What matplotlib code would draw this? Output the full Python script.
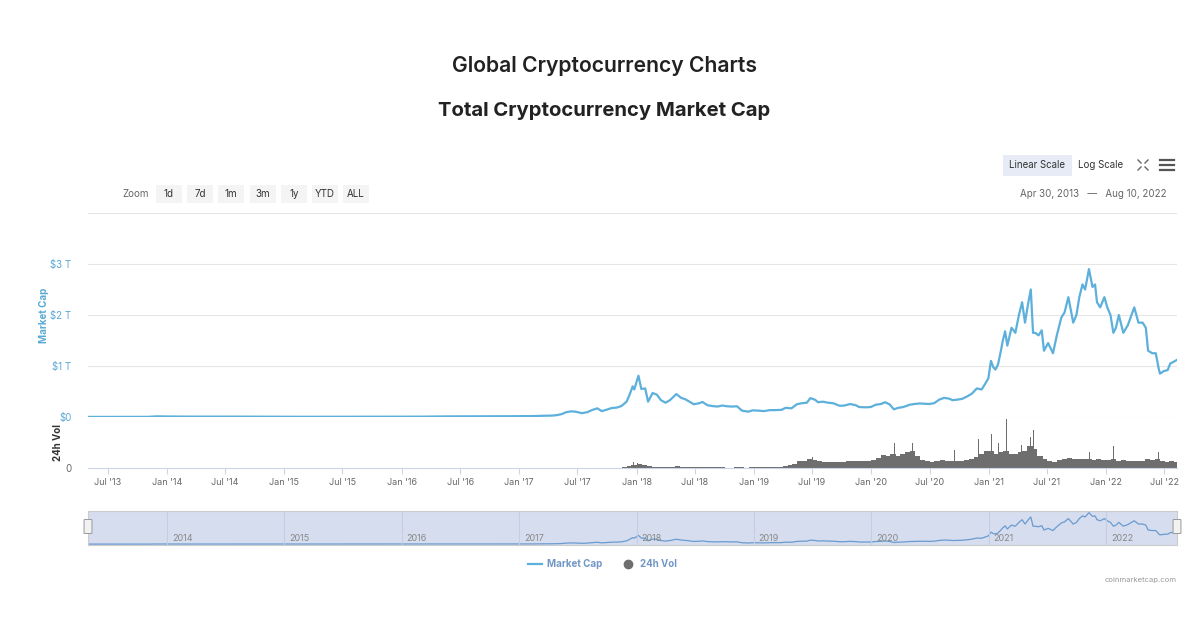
import pandas as pd
import numpy as np
import matplotlib
matplotlib.use('Agg')
import matplotlib.pyplot as plt
import matplotlib.dates as mdates
from matplotlib.lines import Line2D
from matplotlib.patches import Rectangle, FancyBboxPatch

plt.rcParams['font.family'] = ['Inter', 'DejaVu Sans']

# total market cap, $B
cap_dates = ['2013-04-30', '2013-08-01', '2013-11-01', '2013-12-01', '2014-01-01', '2014-03-01',
             '2014-06-01', '2014-09-01', '2014-12-01', '2015-03-01', '2015-06-01', '2015-09-01',
             '2015-12-01', '2016-03-01', '2016-06-01', '2016-09-01', '2016-12-01', '2017-01-15',
             '2017-02-15', '2017-03-01', '2017-03-15', '2017-04-01', '2017-04-15', '2017-05-01',
             '2017-05-15', '2017-05-25', '2017-06-10', '2017-06-25', '2017-07-15', '2017-08-01',
             '2017-08-15', '2017-09-01', '2017-09-15', '2017-10-01', '2017-10-15', '2017-11-01',
             '2017-11-15', '2017-12-01', '2017-12-10', '2017-12-20', '2017-12-25', '2018-01-07',
             '2018-01-16', '2018-01-28', '2018-02-06', '2018-02-20', '2018-03-05', '2018-03-18',
             '2018-04-01', '2018-04-15', '2018-05-05', '2018-05-20', '2018-06-01', '2018-06-15',
             '2018-06-28', '2018-07-15', '2018-07-25', '2018-08-10', '2018-08-25', '2018-09-10',
             '2018-09-25', '2018-10-10', '2018-10-25', '2018-11-10', '2018-11-25', '2018-12-15',
             '2018-12-28', '2019-01-15', '2019-02-01', '2019-02-20', '2019-03-10', '2019-03-28',
             '2019-04-10', '2019-04-28', '2019-05-15', '2019-05-30', '2019-06-15', '2019-06-26',
             '2019-07-10', '2019-07-20', '2019-08-05', '2019-08-20', '2019-09-05', '2019-09-25',
             '2019-10-10', '2019-10-28', '2019-11-15', '2019-11-25', '2019-12-15', '2019-12-31',
             '2020-01-15', '2020-02-01', '2020-02-14', '2020-02-28', '2020-03-12', '2020-03-25',
             '2020-04-10', '2020-04-30', '2020-05-15', '2020-05-31', '2020-06-15', '2020-06-30',
             '2020-07-15', '2020-07-31', '2020-08-15', '2020-08-31', '2020-09-10', '2020-09-25',
             '2020-10-10', '2020-10-25', '2020-11-10', '2020-11-25', '2020-12-10', '2020-12-20',
             '2020-12-31', '2021-01-08', '2021-01-15', '2021-01-22', '2021-01-30', '2021-02-08',
             '2021-02-14', '2021-02-21', '2021-02-28', '2021-03-13', '2021-03-25', '2021-04-05',
             '2021-04-15', '2021-04-24', '2021-05-03', '2021-05-12', '2021-05-19', '2021-05-26',
             '2021-06-05', '2021-06-15', '2021-06-22', '2021-07-05', '2021-07-20', '2021-08-01',
             '2021-08-15', '2021-08-25', '2021-09-06', '2021-09-21', '2021-10-01', '2021-10-10',
             '2021-10-20', '2021-10-28', '2021-11-09', '2021-11-20', '2021-11-28', '2021-12-04',
             '2021-12-14', '2021-12-27', '2022-01-05', '2022-01-15', '2022-01-24', '2022-02-01',
             '2022-02-10', '2022-02-24', '2022-03-10', '2022-03-30', '2022-04-12', '2022-04-25',
             '2022-05-05', '2022-05-12', '2022-05-25', '2022-06-05', '2022-06-14', '2022-06-18',
             '2022-06-30', '2022-07-12', '2022-07-20', '2022-07-30', '2022-08-10']
cap_values = [1.5, 1.3, 3, 13, 10, 8,
              8, 7, 5, 4, 4, 4,
              6, 7, 12, 13, 15, 17,
              18, 22, 24, 25, 28, 40,
              60, 90, 110, 105, 75, 95,
              135, 170, 115, 145, 175, 185,
              215, 300, 430, 600, 540, 810,
              550, 560, 300, 470, 440, 330,
              280, 330, 450, 375, 350, 300,
              250, 270, 295, 230, 215, 205,
              225, 210, 205, 210, 125, 105,
              130, 125, 115, 135, 135, 140,
              180, 170, 250, 270, 280, 370,
              340, 290, 300, 280, 270, 220,
              225, 255, 230, 195, 190, 195,
              240, 255, 290, 245, 150, 180,
              195, 240, 255, 265, 260, 255,
              270, 340, 375, 360, 330, 340,
              355, 400, 460, 560, 540, 640,
              760, 1100, 980, 930, 1030, 1300,
              1500, 1680, 1400, 1750, 1650, 2000,
              2250, 1850, 2200, 2500, 1650, 1650,
              1600, 1700, 1300, 1450, 1250, 1600,
              1950, 2050, 2350, 1850, 2000, 2350,
              2600, 2500, 2900, 2550, 2600, 2250,
              2150, 2350, 2150, 2000, 1650, 1750,
              2000, 1650, 1800, 2150, 1850, 1850,
              1750, 1300, 1250, 1250, 950, 850,
              900, 920, 1050, 1080, 1120]

# 24h volume, $B, two readings per month from Jun 2017
vol_start = '2017-06-01'
vol_values = [1, 1, 1, 1, 1, 2, 2, 2, 2, 2, 3, 5, 14, 22,
              26, 20, 12, 8, 6, 5, 5, 7, 12, 10, 5, 4, 5, 5, 4, 4, 4, 4, 3, 3, 4, 4, 3, 4,
              4, 4, 4, 5, 5, 6, 12, 20, 30, 45, 50, 60, 55, 50, 42, 40, 38, 40, 42, 48, 45, 50, 48, 50,
              55, 70, 90, 85, 100, 80, 95, 110, 115, 85, 55, 45, 40, 45, 55, 45, 50, 45, 50, 55, 65, 75, 95, 115,
              120, 100, 110, 120, 100, 95, 110, 120, 150, 130, 80, 65, 45, 40, 55, 60, 70, 60, 60, 65, 60, 55, 65, 55,
              55, 60, 50, 55, 50, 50, 45, 45, 60, 55, 60, 50, 40, 45, 40]
spike_dates = ['2017-12-22', '2018-01-05', '2019-05-28', '2019-07-02', '2020-03-15', '2020-05-08',
               '2020-09-16', '2020-12-01', '2021-01-10', '2021-02-01', '2021-02-26', '2021-04-13',
               '2021-05-12', '2021-05-20', '2021-09-08', '2021-11-10', '2022-01-24', '2022-06-14']
spike_values = [40, 35, 85, 75, 175, 170,
                125, 200, 235, 170, 340, 160,
                215, 265, 120, 110, 155, 110]

x_ticks = pd.date_range('2013-07-01', '2022-07-01', freq='6MS')
x_labels = [d.strftime("%b '%y") for d in x_ticks]
cap_ticks = [0, 1000, 2000, 3000]
cap_labels = ['$0', '$1 T', '$2 T', '$3 T']
nav_years = list(range(2014, 2023))

cap = pd.Series(cap_values, index=pd.to_datetime(cap_dates))
vol_idx = []
for m in pd.date_range(vol_start, periods=(len(vol_values) + 1) // 2, freq='MS'):
    vol_idx += [m, m + pd.Timedelta(days=15)]
vol = pd.Series(vol_values, index=vol_idx[:len(vol_values)])
spikes = pd.Series(spike_values, index=pd.to_datetime(spike_dates))

W, H = 1200, 630
def fx(x): return x / W
def fy(y): return 1 - y / H

line_c = '#5cb0db'
grid_c = '#e6e6e6'
xmin, xmax = pd.Timestamp('2013-04-30'), pd.Timestamp('2022-08-10')

fig = plt.figure(figsize=(12, 6.3), dpi=100)

fig.text(fx(604), fy(66), 'Global Cryptocurrency Charts', ha='center', va='center',
         fontsize=15.2, fontweight='semibold', color='#222222')
fig.text(fx(604), fy(111), 'Total Cryptocurrency Market Cap', ha='center', va='center',
         fontsize=14.6, fontweight='bold', color='#222222')

# main pane
ax = fig.add_axes([fx(88), fy(417), fx(1177) - fx(88), fy(213) - fy(417)])
ax.plot(cap.index, cap.values, color=line_c, lw=1.6, solid_joinstyle='round')
ax.set_xlim(xmin, xmax)
ax.set_ylim(0, 4000)
ax.set_yticks(cap_ticks + [4000])
ax.set_yticklabels(cap_labels + [''])
ax.grid(axis='y', color=grid_c, lw=0.8)
ax.set_axisbelow(True)
ax.tick_params(axis='y', length=0, pad=12, labelsize=7, labelcolor='#5aa8d6')
ax.tick_params(axis='x', length=0, labelbottom=False)
for s in ax.spines.values():
    s.set_visible(False)
ax.set_ylabel('Market Cap', fontsize=7, fontweight='bold', color='#5aa8d6')

# volume pane
av = fig.add_axes([fx(88), fy(468), fx(1177) - fx(88), fy(418) - fy(468)])
av.bar(vol.index, vol.values, width=16.5, color='#6e6e6e', align='edge', linewidth=0)
av.bar(spikes.index, spikes.values, width=2.5, color='#6e6e6e', linewidth=0)
av.set_xlim(xmin, xmax)
av.set_ylim(0, 345)
av.set_yticks([0])
av.set_yticklabels(['0'])
av.tick_params(axis='y', length=0, pad=12, labelsize=7, labelcolor='#666666')
av.set_xticks(x_ticks)
av.set_xticklabels(x_labels)
av.tick_params(axis='x', length=4, color='#ccd6eb', labelsize=6.5, labelcolor='#666666', pad=3)
for s in ['top', 'left', 'right']:
    av.spines[s].set_visible(False)
av.spines['bottom'].set_color('#ccd6eb')
av.set_ylabel('24h Vol', fontsize=7, fontweight='bold', color='#333333')
av.yaxis.set_label_coords(-0.023, 0.5)
ax.yaxis.set_label_coords(-0.036, 0.5)

# navigator
an = fig.add_axes([fx(88), fy(545), fx(1177) - fx(88), fy(511) - fy(545)])
an.set_facecolor('#d5ddee')
an.plot(cap.index, cap.values, color='#6a9bd0', lw=0.9)
an.set_xlim(xmin, xmax)
an.set_ylim(-80, 3050)
for yr in nav_years:
    d = pd.Timestamp(f'{yr}-01-01')
    an.axvline(d, color='#c4cde2', lw=0.8)
    an.text(d + pd.Timedelta(days=15), 150, str(yr), fontsize=6.5, color='#888888',
            ha='left', va='bottom')
an.set_xticks([])
an.set_yticks([])
for s in an.spines.values():
    s.set_color('#cccccc')
    s.set_linewidth(0.8)

# navigator handles
for hx in (88, 1177):
    fig.patches.append(FancyBboxPatch((fx(hx - 3), fy(533)), fx(6), fy(520) - fy(533),
                                      boxstyle='round,pad=0.0008', transform=fig.transFigure,
                                      fc='#f2f2f2', ec='#999999', lw=0.7))

# range selector
fig.text(fx(136), fy(194), 'Zoom', ha='center', va='center', fontsize=7, color='#666666')
for lbl, cx in zip(['1d', '7d', '1m', '3m', '1y', 'YTD', 'ALL'], [169, 200, 231, 263, 294, 325, 356]):
    fig.patches.append(Rectangle((fx(cx - 13), fy(203)), fx(26), fy(185) - fy(203),
                                 transform=fig.transFigure, fc='#f4f4f4', ec='none'))
    fig.text(fx(cx), fy(194), lbl, ha='center', va='center', fontsize=7, color='#333333')

fig.patches.append(Rectangle((fx(1003), fy(176)), fx(69), fy(155) - fy(176),
                             transform=fig.transFigure, fc='#e6ebf5', ec='none'))
fig.text(fx(1037), fy(165), 'Linear Scale', ha='center', va='center', fontsize=7, color='#333333')
fig.text(fx(1101), fy(165), 'Log Scale', ha='center', va='center', fontsize=7, color='#333333')

# full-screen icon
for (x0, y0, dx, dy) in [(1138, 160, 3, 3), (1148, 160, -3, 3), (1138, 170, 3, -3), (1148, 170, -3, -3)]:
    fig.lines.append(Line2D([fx(x0), fx(x0 + dx)], [fy(y0), fy(y0 + dy)],
                            transform=fig.transFigure, color='#666666', lw=1))
# menu icon
for yy in (160, 165, 170):
    fig.lines.append(Line2D([fx(1160), fx(1174)], [fy(yy), fy(yy)],
                            transform=fig.transFigure, color='#555555', lw=1.6))

fig.text(fx(1093), fy(194), 'Apr 30, 2013   \u2014   Aug 10, 2022', ha='center', va='center',
         fontsize=7, color='#666666')

# legend
fig.lines.append(Line2D([fx(528), fx(542)], [fy(564), fy(564)], transform=fig.transFigure,
                        color=line_c, lw=1.6))
fig.text(fx(547), fy(564), 'Market Cap', ha='left', va='center', fontsize=7,
         fontweight='bold', color='#7196c4')
fig.lines.append(Line2D([fx(628)], [fy(564)], transform=fig.transFigure, marker='o',
                        markersize=6, color='#6e6e6e', lw=0))
fig.text(fx(640), fy(564), '24h Vol', ha='left', va='center', fontsize=7,
         fontweight='bold', color='#7196c4')

fig.text(fx(1177), fy(580), 'coinmarketcap.com', ha='right', va='center', fontsize=5.5,
         color='#999999')

fig.savefig('out.png', dpi=100, facecolor='white')
